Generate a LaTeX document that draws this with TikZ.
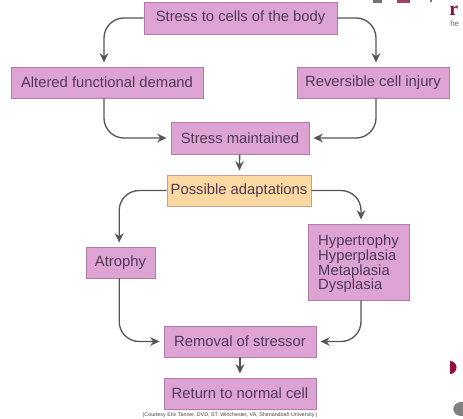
\documentclass[tikz,border=0pt]{standalone}
\usepackage{fontspec}
\setmainfont{Liberation Sans}
\newfontfamily\serifbit{Liberation Serif}
\usetikzlibrary{arrows.meta}
\definecolor{boxfill}{HTML}{DDA3D2}
\definecolor{boxline}{HTML}{B27AAB}
\definecolor{orfill}{HTML}{FCD9A2}
\definecolor{orline}{HTML}{C9A08F}
\definecolor{txt}{HTML}{4E3A55}
\definecolor{wire}{HTML}{55555A}
\definecolor{maroon}{HTML}{8E0F3E}
\tikzset{
  px/.style={x=0.75pt,y=-0.75pt},
  box/.style={draw=boxline,fill=boxfill,line width=0.7pt,text=txt,font=\fontsize{11.1}{11}\selectfont,inner sep=0pt,align=left},
  orbox/.style={box,draw=orline,fill=orfill},
  wirepath/.style={draw=wire,line width=1pt,rounded corners=15pt,-{Stealth[length=7pt,width=6.5pt]},shorten >=3pt},
  straight/.style={wirepath,rounded corners=0pt}
}
\newcommand{\boxat}[7][box]{\node[#1,minimum width=#6*0.75pt,minimum height=#7*0.75pt] (#2) at (#3,#4) {#5};}
\begin{document}
\begin{tikzpicture}[px]
\useasboundingbox (0,0) rectangle (463,418);
\boxat{stress}{240.5}{18}{Stress to cells of the body}{193}{32}
\boxat{alt}{107}{82.5}{Altered functional demand}{192}{31}
\boxat{rev}{373}{82.5}{Reversible cell injury}{152}{31}
\boxat{main}{240}{138}{Stress maintained}{138}{32}
\boxat[orbox]{adapt}{239}{190.5}{Possible adaptations}{144}{31}
\boxat{atro}{120.5}{262.5}{Atrophy}{69}{31}
\boxat{hyper}{358.5}{262}{\rule{0pt}{11pt}Hypertrophy\\Hyperplasia\\Metaplasia\\Dysplasia}{101}{76}
\boxat{remov}{240}{341.5}{Removal of stressor}{152}{31}
\boxat{ret}{240}{393.5}{Return to normal cell}{152}{31}
\draw[wirepath] (stress.west) -| ([xshift=-2.25pt]alt.north);
\draw[wirepath] (stress.east) -| ([xshift=2.25pt]rev.north);
\draw[wirepath] ([xshift=-2.25pt]alt.south) |- (main.west);
\draw[wirepath] ([xshift=2.25pt]rev.south) |- (main.east);
\draw[straight] (main) -- (adapt);
\draw[wirepath] (adapt.west) -| ([xshift=-1pt]atro.north);
\draw[wirepath] (adapt.east) -| ([xshift=1.9pt]hyper.north);
\draw[wirepath] ([xshift=-1pt]atro.south) |- (remov.west);
\draw[wirepath] ([xshift=1.9pt]hyper.south) |- (remov.east);
\draw[straight] (remov) -- (ret);
\node[font=\fontsize{4}{4}\selectfont,text=black!75,inner sep=0pt] (credit) at (230,415) {(Courtesy Eric Tanner, DVD, ST. Winchester, VA, Shenandoah University.)};
\node[font=\serifbit\bfseries\fontsize{15}{15}\selectfont,text=maroon,anchor=west,inner sep=0pt] (frag) at (449,11) {r};
\node[font=\fontsize{6}{6}\selectfont,text=black!60,anchor=west,inner sep=0pt] (frag2) at (450,24) {he};
\fill[black!55] (373,0) rectangle (382,3);
\fill[maroon!80] (397,0) rectangle (410,3);
\fill[black!55] (430,0) rectangle (432,2);
\fill[maroon] (450,361) arc (-90:90:6.5) -- cycle;
\fill[black!50] (463,402) -- (463,416) .. controls (450,417) and (450,401) .. (463,402) -- cycle;
\end{tikzpicture}
\end{document}
